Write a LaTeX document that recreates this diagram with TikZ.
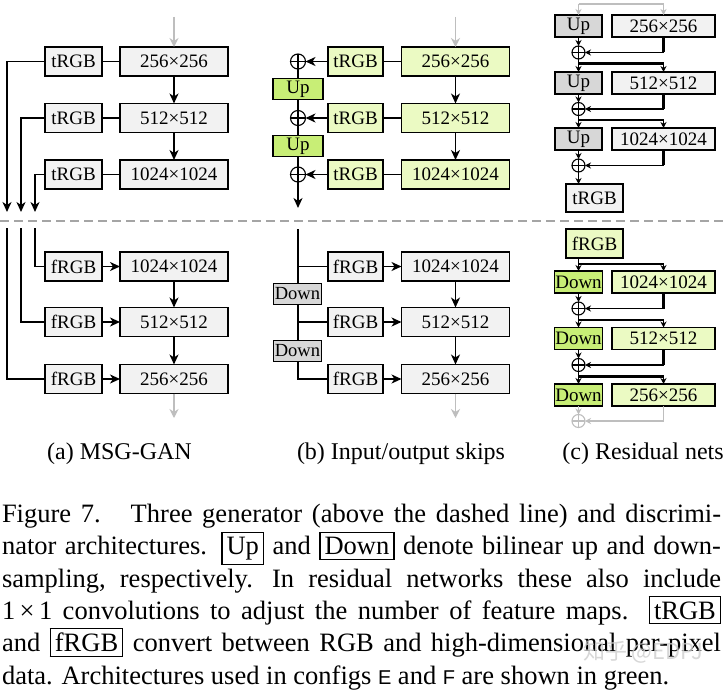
\documentclass[tikz,border=0pt]{standalone}
\usepackage{fontspec}
\setmainfont{Liberation Serif}
\newfontfamily\cjkfont{Noto Sans CJK SC}
\newfontfamily\capsans{Liberation Sans}
\usetikzlibrary{arrows.meta,calc}
\definecolor{lgray}{RGB}{242,242,242}
\definecolor{dgray}{RGB}{215,215,215}
\definecolor{lgreen}{RGB}{235,250,195}
\definecolor{dgreen}{RGB}{200,238,118}
\definecolor{arrgray}{RGB}{190,190,190}
\definecolor{dashgray}{RGB}{165,165,165}
\definecolor{wmgray}{RGB}{205,205,205}
\setlength{\fboxsep}{4pt}
\setlength{\fboxrule}{1.2pt}
\begin{document}
\begin{tikzpicture}[x=1pt,y=-1pt,
  every node/.style={inner sep=0pt, outer sep=0pt},
  blk/.style={draw=black, line width=1.1pt, font=\fontsize{19}{22}\selectfont, minimum height=29pt},
  resbox/.style={blk, minimum width=108pt},
  rgbbox/.style={blk, minimum width=57pt},
  brgb/.style={blk, minimum width=55pt},
  updnbox/.style={blk, minimum height=21.5pt, minimum width=50pt},
  cupbox/.style={blk, minimum height=22pt, minimum width=47pt},
  cresbox/.style={blk, minimum height=22pt, minimum width=103pt},
  addc/.style={circle, draw=black, line width=1.1pt, minimum size=15pt, fill=white,
    path picture={\draw[line width=1.1pt] (path picture bounding box.north) -- (path picture bounding box.south) (path picture bounding box.west) -- (path picture bounding box.east);}},
  caddc/.style={addc, minimum size=13pt},
  gaddc/.style={circle, draw=arrgray, line width=1.1pt, minimum size=13pt, fill=white,
    path picture={\draw[arrgray, line width=1.1pt] (path picture bounding box.north) -- (path picture bounding box.south) (path picture bounding box.west) -- (path picture bounding box.east);}},
  conn/.style={line width=1.7pt},
  arr/.style={-{Stealth[length=10pt,width=9pt,inset=3pt]}},
  garr/.style={draw=arrgray, line width=1.8pt, -{Stealth[length=9pt,width=9pt,inset=3pt]}},
  thinl/.style={line width=1.2pt},
  medl/.style={line width=1.6pt},
  thickl/.style={line width=2.8pt},
  sarr/.style={-{Stealth[length=6pt,width=6pt,inset=2pt]}},
  gthin/.style={draw=arrgray, line width=1.4pt},
  capfont/.style={font=\fontsize{26.5}{32}\selectfont},
  subcap/.style={font=\fontsize{24}{28}\selectfont}
]
\fill[white] (0,0) rectangle (723,698);
\useasboundingbox (0,0) rectangle (723,698);

% ---------------- (a) MSG-GAN, generator
\node[resbox,fill=lgray] (a1) at (174,61.5) {256×256};
\node[resbox,fill=lgray] (a2) at (174,118) {512×512};
\node[resbox,fill=lgray] (a3) at (174,174.5) {1024×1024};
\node[rgbbox,fill=lgray] (ta1) at (73.5,61.5) {tRGB};
\node[rgbbox,fill=lgray] (ta2) at (73.5,118) {tRGB};
\node[rgbbox,fill=lgray] (ta3) at (73.5,174.5) {tRGB};
\coordinate (ain) at (174,17);
\draw[garr] (ain) -- (a1);
\draw[conn,arr] (a1) -- (a2);
\draw[conn,arr] (a2) -- (a3);
\draw[conn] (a1) -- (ta1);
\draw[conn] (a2) -- (ta2);
\draw[conn] (a3) -- (ta3);
\coordinate (ao1) at (7,212);
\coordinate (ao2) at (21,212);
\coordinate (ao3) at (35,212);
\draw[conn,arr] (ta1.west) -| (ao1);
\draw[conn,arr] (ta2.west) -| (ao2);
\draw[conn,arr] (ta3.west) -| (ao3);

% ---------------- dashed separator
\coordinate (dl) at (0,221);
\coordinate (dr) at (723,221);
\draw[dashgray, line width=1.6pt, dash pattern=on 9pt off 5pt] (dl) -- (dr);

% ---------------- (a) MSG-GAN, discriminator
\coordinate (ai1) at (35,228);
\coordinate (ai2) at (21,228);
\coordinate (ai3) at (7,228);
\node[rgbbox,fill=lgray] (af1) at (73.5,266.5) {fRGB};
\node[rgbbox,fill=lgray] (af2) at (73.5,322) {fRGB};
\node[rgbbox,fill=lgray] (af3) at (73.5,379) {fRGB};
\node[resbox,fill=lgray] (ar1) at (174,266.5) {1024×1024};
\node[resbox,fill=lgray] (ar2) at (174,322) {512×512};
\node[resbox,fill=lgray] (ar3) at (174,379) {256×256};
\draw[conn] (ai1) |- (af1.west);
\draw[conn] (ai2) |- (af2.west);
\draw[conn] (ai3) |- (af3.west);
\draw[conn,arr] (af1) -- (ar1);
\draw[conn,arr] (af2) -- (ar2);
\draw[conn,arr] (af3) -- (ar3);
\draw[conn,arr] (ar1) -- (ar2);
\draw[conn,arr] (ar2) -- (ar3);
\coordinate (aout) at (174,418);
\draw[garr] (ar3) -- (aout);

% ---------------- (b) Input/output skips, generator
\node[resbox,fill=lgreen] (br1) at (455.5,61.5) {256×256};
\node[resbox,fill=lgreen] (br2) at (455.5,118) {512×512};
\node[resbox,fill=lgreen] (br3) at (455.5,174.5) {1024×1024};
\node[brgb,fill=lgreen] (bt1) at (355.5,61.5) {tRGB};
\node[brgb,fill=lgreen] (bt2) at (355.5,118) {tRGB};
\node[brgb,fill=lgreen] (bt3) at (355.5,174.5) {tRGB};
\node[addc] (bc1) at (298,61.5) {};
\node[addc] (bc2) at (298,118) {};
\node[addc] (bc3) at (298,174.5) {};
\node[updnbox,fill=dgreen] (bu1) at (298,89) {Up};
\node[updnbox,fill=dgreen] (bu2) at (298,146) {Up};
\coordinate (bin) at (455.5,17);
\draw[garr] (bin) -- (br1);
\draw[conn,arr] (br1) -- (br2);
\draw[conn,arr] (br2) -- (br3);
\draw[conn] (br1) -- (bt1);
\draw[conn] (br2) -- (bt2);
\draw[conn] (br3) -- (bt3);
\draw[conn,arr] (bt1) -- (bc1);
\draw[conn,arr] (bt2) -- (bc2);
\draw[conn,arr] (bt3) -- (bc3);
\draw[conn] (bc1) -- (bu1);
\draw[conn] (bu1) -- (bc2);
\draw[conn] (bc2) -- (bu2);
\draw[conn] (bu2) -- (bc3);
\coordinate (bout) at (298,208);
\draw[conn,arr] (bc3) -- (bout);

% ---------------- (b) Input/output skips, discriminator
\coordinate (bdin) at (298,229);
\node[brgb,fill=lgray] (bf1) at (355.5,266.5) {fRGB};
\node[brgb,fill=lgray] (bf2) at (355.5,322) {fRGB};
\node[brgb,fill=lgray] (bf3) at (355.5,379) {fRGB};
\node[resbox,fill=lgray] (bs1) at (455.5,266.5) {1024×1024};
\node[resbox,fill=lgray] (bs2) at (455.5,322) {512×512};
\node[resbox,fill=lgray] (bs3) at (455.5,379) {256×256};
\node[updnbox,fill=dgray,minimum width=48pt,font=\fontsize{18.5}{22}\selectfont] (bd1) at (297.5,294) {Down};
\node[updnbox,fill=dgray,minimum width=48pt,font=\fontsize{18.5}{22}\selectfont] (bd2) at (297.5,351) {Down};
\draw[conn] (bdin) -- (bd1.north -| bdin);
\draw[conn] (bd1.south -| bdin) -- (bd2.north -| bdin);
\draw[conn] (bd2.south -| bdin) |- (bf3.west);
\draw[conn] (bdin |- bf1.west) -- (bf1.west);
\draw[conn] (bdin |- bf2.west) -- (bf2.west);
\draw[conn,arr] (bf1) -- (bs1);
\draw[conn,arr] (bf2) -- (bs2);
\draw[conn,arr] (bf3) -- (bs3);
\draw[conn,arr] (bs1) -- (bs2);
\draw[conn,arr] (bs2) -- (bs3);
\coordinate (bdout) at (455.5,418);
\draw[garr] (bs3) -- (bdout);

% ---------------- (c) Residual nets, generator
\node[cupbox,fill=dgray] (cu1) at (578.5,26) {Up};
\node[cupbox,fill=dgray] (cu2) at (578.5,83) {Up};
\node[cupbox,fill=dgray] (cu3) at (578.5,139) {Up};
\node[cresbox,fill=lgray] (cr1) at (663.5,26) {256×256};
\node[cresbox,fill=lgray] (cr2) at (663.5,83) {512×512};
\node[cresbox,fill=lgray] (cr3) at (663.5,139) {1024×1024};
\node[caddc] (cc1) at (578.5,52.5) {};
\node[caddc] (cc2) at (578.5,109) {};
\node[caddc] (cc3) at (578.5,165.5) {};
\node[rgbbox,fill=lgray,minimum height=28pt] (ct) at (594.5,198) {tRGB};
\coordinate (cg1) at (578.5,4);
\coordinate (cg2) at (663.5,4);
\draw[gthin] (cg1) -- (cg2);
\draw[gthin,sarr] (cg1) -- (cu1);
\draw[gthin,sarr] (cg2) -- (cr1);
\coordinate (cj1) at (578.5,63.5);
\coordinate (cj2) at (578.5,120);
% stage 1
\draw[thinl,sarr] (cu1) -- (cc1);
\draw[thickl] (cr1.south) -- (cr1.south |- cc1);
\draw[medl,sarr] (cr1.south |- cc1) -- (cc1);
\draw[thinl] (cc1) -- (cj1);
\draw[thinl,sarr] (cj1) -- (cu2);
\draw[thickl] (cj1) -- (cj1 -| cr2);
\draw[thinl,sarr] (cj1 -| cr2) -- (cr2);
% stage 2
\draw[thinl,sarr] (cu2) -- (cc2);
\draw[thickl] (cr2.south) -- (cr2.south |- cc2);
\draw[medl,sarr] (cr2.south |- cc2) -- (cc2);
\draw[thinl] (cc2) -- (cj2);
\draw[thinl,sarr] (cj2) -- (cu3);
\draw[thickl] (cj2) -- (cj2 -| cr3);
\draw[thinl,sarr] (cj2 -| cr3) -- (cr3);
% stage 3
\draw[thinl,sarr] (cu3) -- (cc3);
\draw[thickl] (cr3.south) -- (cr3.south |- cc3);
\draw[medl,sarr] (cr3.south |- cc3) -- (cc3);
\draw[thinl,sarr] (cc3) -- (cc3 |- ct.north);

% ---------------- (c) Residual nets, discriminator
\node[rgbbox,fill=lgreen] (cf) at (594.5,243.5) {fRGB};
\node[cupbox,fill=dgreen,minimum width=48pt] (cd1) at (578.5,282) {Down};
\node[cupbox,fill=dgreen,minimum width=48pt] (cd2) at (578.5,338.5) {Down};
\node[cupbox,fill=dgreen,minimum width=48pt] (cd3) at (578.5,395) {Down};
\node[cresbox,fill=lgreen] (cs1) at (663.5,282) {1024×1024};
\node[cresbox,fill=lgreen] (cs2) at (663.5,338.5) {512×512};
\node[cresbox,fill=lgreen] (cs3) at (663.5,395) {256×256};
\node[caddc] (cc4) at (578.5,308.5) {};
\node[caddc] (cc5) at (578.5,365) {};
\node[gaddc] (cc6) at (578.5,421) {};
\coordinate (cj0) at (578.5,264);
\coordinate (cj3) at (578.5,320);
\coordinate (cj4) at (578.5,376.5);
\draw[thinl] (cj0 |- cf.south) -- (cj0);
\draw[thinl,sarr] (cj0) -- (cd1);
\draw[thickl] (cj0) -- (cj0 -| cs1);
\draw[thinl,sarr] (cj0 -| cs1) -- (cs1);
% stage 1
\draw[thinl,sarr] (cd1) -- (cc4);
\draw[thickl] (cs1.south) -- (cs1.south |- cc4);
\draw[medl,sarr] (cs1.south |- cc4) -- (cc4);
\draw[thinl] (cc4) -- (cj3);
\draw[thinl,sarr] (cj3) -- (cd2);
\draw[thickl] (cj3) -- (cj3 -| cs2);
\draw[thinl,sarr] (cj3 -| cs2) -- (cs2);
% stage 2
\draw[thinl,sarr] (cd2) -- (cc5);
\draw[thickl] (cs2.south) -- (cs2.south |- cc5);
\draw[medl,sarr] (cs2.south |- cc5) -- (cc5);
\draw[thinl] (cc5) -- (cj4);
\draw[thinl,sarr] (cj4) -- (cd3);
\draw[thickl] (cj4) -- (cj4 -| cs3);
\draw[thinl,sarr] (cj4 -| cs3) -- (cs3);
% stage 3 (gray)
\draw[gthin,sarr] (cd3) -- (cc6);
\draw[gthin] (cs3.south) -- (cs3.south |- cc6);
\draw[gthin,sarr] (cs3.south |- cc6) -- (cc6);

% ---------------- sub-captions
\node[subcap, anchor=base] (capa) at (119.5,459) {(a) MSG-GAN};
\node[subcap, anchor=base] (capb) at (401,459) {(b) Input/output skips};
\node[subcap, anchor=base] (capc) at (643,459) {(c) Residual nets};

% ---------------- caption
\node[capfont, anchor=base west] (l1) at (2,522) {\makebox[719pt][s]{Figure 7.\hspace{30pt}Three generator (above the dashed line) and discrimi-}};
\node[capfont, anchor=base west] (l2) at (2,554.5) {\makebox[719pt][s]{nator architectures. \fbox{Up} and \fbox{Down} denote bilinear up and down-}};
\node[capfont, anchor=base west] (l3) at (2,587) {\frenchspacing\makebox[719pt][s]{sampling, respectively.\hspace{5pt} In residual networks these also include}};
\node[capfont, anchor=base west] (l4) at (2,619) {\makebox[719pt][s]{1\,×\,1 convolutions to adjust the number of feature maps. \fbox{tRGB}}};
\node[capfont, anchor=base west] (l5) at (2,651.5) {\makebox[719pt][s]{and \fbox{fRGB} convert between RGB and high-dimensional per-pixel}};
\node[capfont, anchor=base west] (l6) at (2,684) {data. Architectures used in configs {\capsans\fontsize{20}{24}\selectfont E} and {\capsans\fontsize{20}{24}\selectfont F} are shown in green.};

% ---------------- watermark
\node[anchor=base west, font=\cjkfont\fontsize{22}{26}\selectfont, text=wmgray, opacity=0.8] (wm) at (583,659) {知乎 @EDPJ};
\end{tikzpicture}
\end{document}
